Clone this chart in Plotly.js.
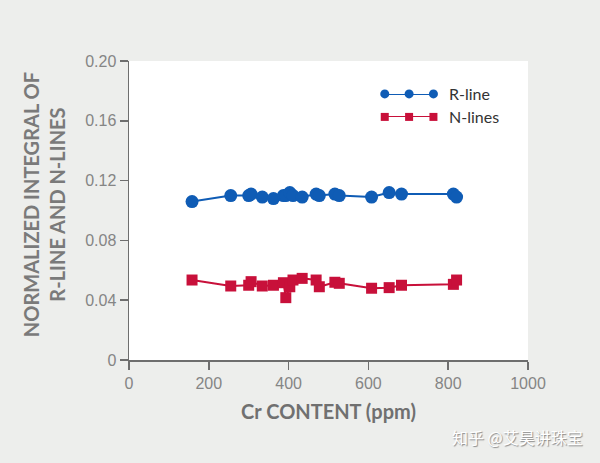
<!DOCTYPE html>
<html><head><meta charset="utf-8">
<script src="https://cdn.plot.ly/plotly-3.0.1.min.js"></script>
<style>body{margin:0;background:#edeeec}#c{width:600px;height:463px}</style>
</head><body><div id="c"></div>
<script>
const crContent = [158, 255, 300, 306, 334, 362, 387, 393, 403, 411, 434, 469, 477, 516, 527, 608, 652, 683, 813, 821];
const rLine    = [0.106, 0.110, 0.110, 0.111, 0.109, 0.108, 0.110, 0.110, 0.112, 0.110, 0.109, 0.111, 0.110, 0.111, 0.110, 0.109, 0.112, 0.111, 0.111, 0.109];
const nLines   = [0.0535, 0.0495, 0.0500, 0.0524, 0.0495, 0.0500, 0.0517, 0.0417, 0.0490, 0.0535, 0.0546, 0.0535, 0.0490, 0.0520, 0.0513, 0.0480, 0.0484, 0.0500, 0.0506, 0.0535];
const seriesNames = ['R-line', 'N-lines'];
const xTicks = [0, 200, 400, 600, 800, 1000];
const yTicks = [0, 0.04, 0.08, 0.12, 0.16, 0.20];
const yTickText = ['0', '0.04', '0.08', '0.12', '0.16', '0.20'];
const legendX = [0, 0.5, 1];

const blue = '#0f5cb5', red = '#c8103a', gray = '#6e6e6e';
const traces = [
  {x: crContent, y: rLine, name: seriesNames[0], mode: 'lines+markers', type: 'scatter',
   line: {color: blue, width: 2}, marker: {color: blue, size: 13, symbol: 'circle'}, showlegend: false},
  {x: crContent, y: nLines, name: seriesNames[1], mode: 'lines+markers', type: 'scatter',
   line: {color: red, width: 2}, marker: {color: red, size: 11, symbol: 'square'}, showlegend: false},
  {x: legendX, y: [1, 1, 1], xaxis: 'x2', yaxis: 'y2', mode: 'lines+markers', showlegend: false, hoverinfo: 'skip', cliponaxis: false,
   line: {color: blue, width: 2}, marker: {color: blue, size: 9, symbol: 'circle'}},
  {x: legendX, y: [0, 0, 0], xaxis: 'x2', yaxis: 'y2', mode: 'lines+markers', showlegend: false, hoverinfo: 'skip', cliponaxis: false,
   line: {color: red, width: 2}, marker: {color: red, size: 8, symbol: 'square'}}
];
const tickFont = {family: 'Liberation Sans, Arial, sans-serif', size: 16, color: '#858585'};
const layout = {
  width: 600, height: 463,
  paper_bgcolor: '#edeeec', plot_bgcolor: '#ffffff',
  margin: {l: 129, r: 72, t: 61, b: 103},
  showlegend: false,
  xaxis: {range: [0, 1000], tickvals: xTicks, ticks: 'outside', ticklen: 8, tickwidth: 1.5, tickcolor: gray,
          showline: true, linecolor: gray, linewidth: 1.5, showgrid: false, zeroline: false,
          tickfont: tickFont, fixedrange: true,
          title: {text: 'Cr CONTENT (ppm)', font: {family: 'Lato, Open Sans, sans-serif', size: 20, color: '#707070', weight: 'bold'}, standoff: 14}},
  yaxis: {range: [0, 0.2], tickvals: yTicks, ticktext: yTickText, ticks: 'outside', ticklen: 8, tickwidth: 1.5, tickcolor: gray,
          showline: true, linecolor: gray, linewidth: 1.5, showgrid: false, zeroline: false,
          tickfont: tickFont, fixedrange: true},
  xaxis2: {domain: [0.641, 0.763], range: [0, 1], visible: false, anchor: 'y2', fixedrange: true},
  yaxis2: {domain: [0.813, 0.890], range: [0, 1], visible: false, anchor: 'x2', fixedrange: true},
  annotations: [
    {text: 'NORMALIZED INTEGRAL OF<br>R-LINE AND N-LINES', xref: 'paper', yref: 'paper', x: -0.213, y: 0.518,
     xanchor: 'center', yanchor: 'middle', textangle: -90, showarrow: false, align: 'center',
     font: {family: 'Lato, Open Sans, sans-serif', size: 20, color: '#7a7a7a', weight: 'bold'}},
    {text: seriesNames[0], xref: 'paper', yref: 'paper', x: 0.797, y: 0.890, xanchor: 'left', yanchor: 'middle', showarrow: false,
     font: {family: 'Lato, Open Sans, sans-serif', size: 16, color: '#333'}},
    {text: seriesNames[1], xref: 'paper', yref: 'paper', x: 0.797, y: 0.813, xanchor: 'left', yanchor: 'middle', showarrow: false,
     font: {family: 'Lato, Open Sans, sans-serif', size: 16, color: '#333'}},
    {text: '知乎 @艾昊讲珠宝', xref: 'paper', yref: 'paper', x: 1.143, y: -0.258, xanchor: 'right', yanchor: 'middle', showarrow: false,
     font: {family: 'Noto Sans CJK SC', size: 16, color: '#ffffff', shadow: '1px 1px 1px #8a8a8a'}}
  ]
};
Plotly.newPlot('c', traces, layout, {staticPlot: true, displayModeBar: false});
</script></body></html>
